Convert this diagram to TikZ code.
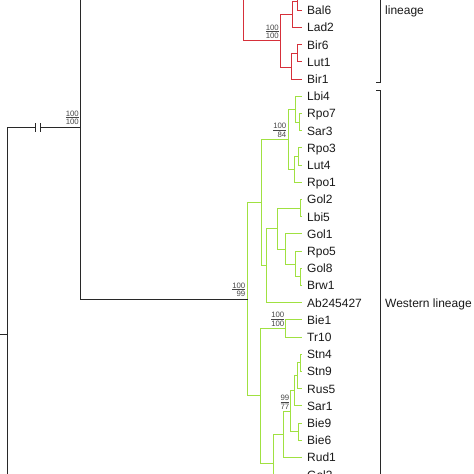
\documentclass[tikz,border=0pt]{standalone}
\usepackage{fontspec}
\setmainfont{Liberation Sans}
\definecolor{treeblack}{RGB}{40,40,40}
\definecolor{treered}{RGB}{214,48,58}
\definecolor{treegreen}{RGB}{160,225,65}
\definecolor{bootgray}{RGB}{70,70,70}
\begin{document}
\begin{tikzpicture}[x=1pt,y=-1pt,
  br/.style={line width=1.6pt},
  blk/.style={br,draw=treeblack},
  redb/.style={br,draw=treered},
  grn/.style={br,draw=treegreen},
  leaf/.style={anchor=base west,inner sep=0pt,font=\fontsize{12}{14}\selectfont,text=black!90},
  boot/.style={anchor=south east,inner sep=0pt,align=right,font=\fontsize{7.8}{8.6}\selectfont,text=bootgray}]
\useasboundingbox (0,0) rectangle (474,474);
\clip (0,0) rectangle (474,474);
% leaves
\foreach \n/\i in {Xtop/-1,Bal6/0,Lad2/1,Bir6/2,Lut1/3,Bir1/4,Lbi4/5,Rpo7/6,Sar3/7,Rpo3/8,Lut4/9,Rpo1/10,Gol2/11,Lbi5/12,Gol1/13,Rpo5/14,Gol8/15,Brw1/16,Ab245427/17,Bie1/18,Tr10/19,Stn4/20,Stn9/21,Rus5/22,Sar1/23,Bie9/24,Bie6/25,Rud1/26,Gol3/27,Xbot/28}
  {\coordinate (\n) at (302,{floor(10.3+17.2*\i)+0.5});}
\foreach \n/\i in {Bal6/0,Lad2/1,Bir6/2,Lut1/3,Bir1/4,Lbi4/5,Rpo7/6,Sar3/7,Rpo3/8,Lut4/9,Rpo1/10,Gol2/11,Lbi5/12,Gol1/13,Rpo5/14,Gol8/15,Brw1/16,Ab245427/17,Bie1/18,Tr10/19,Stn4/20,Stn9/21,Rus5/22,Sar1/23,Bie9/24,Bie6/25,Rud1/26,Gol3/27}
  {\node[leaf] (t\n) at (307,{14.6+17.2*\i}) {\n};}
% red clade
\coordinate (cBal) at (297.5,1.5);
\coordinate (nR1) at (292.5,14.5);
\coordinate (cBir) at (297.5,53.5);
\coordinate (nR2) at (291.5,67.5);
\coordinate (nR3) at (280.5,40.5);
\coordinate (nRtop) at (243.5,-20);
\draw[redb] (cBal) |- (Xtop); \draw[redb] (cBal) |- (Bal6);
\draw[redb] (nR1) |- (cBal); \draw[redb] (nR1) |- (Lad2);
\draw[redb] (cBir) |- (Bir6); \draw[redb] (cBir) |- (Lut1);
\draw[redb] (nR2) |- (cBir); \draw[redb] (nR2) |- (Bir1);
\draw[redb] (nR3) |- (nR1); \draw[redb] (nR3) |- (nR2);
\draw[redb] (nRtop) |- (nR3);
% green clade
\coordinate (cRS) at (299.5,122.5);
\coordinate (nG5) at (295.5,109.5);
\coordinate (cRL) at (298.5,156.5);
\coordinate (nG6) at (294.5,169.5);
\coordinate (nG4) at (288.5,139.5);
\coordinate (cGL) at (300.5,208.5);
\coordinate (cGB) at (300.5,276.5);
\coordinate (nG9) at (295.5,264.5);
\coordinate (nG8) at (285.5,249.5);
\coordinate (nG7) at (277.5,228.5);
\coordinate (nG3) at (266.5,265.5);
\coordinate (nG2) at (261.5,202.5);
\coordinate (cBT) at (285.5,328.5);
\coordinate (cSS) at (300.5,362.5);
\coordinate (nS1) at (297.5,375.5);
\coordinate (nS2) at (294.5,390.5);
\coordinate (cBB) at (298.5,431.5);
\coordinate (nS3) at (290.5,411.5);
\coordinate (nS4) at (283.5,434.5);
\coordinate (nS6) at (292.5,492);
\coordinate (nS5) at (273.5,463.5);
\coordinate (nS0) at (260.5,395.5);
\coordinate (nG0) at (247.5,299.5);
\foreach \p/\c in {cRS/Rpo7,cRS/Sar3,nG5/Lbi4,nG5/cRS,cRL/Rpo3,cRL/Lut4,nG6/cRL,nG6/Rpo1,nG4/nG5,nG4/nG6,
  cGL/Gol2,cGL/Lbi5,cGB/Gol8,cGB/Brw1,nG9/Rpo5,nG9/cGB,nG8/Gol1,nG8/nG9,nG7/cGL,nG7/nG8,nG3/nG7,nG3/Ab245427,
  nG2/nG4,nG2/nG3,cBT/Bie1,cBT/Tr10,cSS/Stn4,cSS/Stn9,nS1/cSS,nS1/Rus5,nS2/nS1,nS2/Sar1,cBB/Bie9,cBB/Bie6,
  nS3/nS2,nS3/cBB,nS4/nS3,nS4/Rud1,nS6/Gol3,nS6/Xbot,nS5/nS4,nS5/nS6,nS0/cBT,nS0/nS5,nG0/nG2,nG0/nS0}
  {\draw[grn] (\p) |- (\c);}
% black backbone
\coordinate (nB) at (80.5,127.5);
\coordinate (nUp) at (150,-44);
\coordinate (nRoot) at (7.5,334.5);
\coordinate (brkL) at (35.5,127.5);
\coordinate (brkR) at (40.5,127.5);
\draw[blk] (nB) |- (nG0);
\draw[blk] (nB) |- (nUp);
\draw[blk] (nRoot) |- (brkL);
\draw[blk] (brkR) -- (nB);
\draw[blk] (35.5,123) -- (35.5,132);
\draw[blk] (40.5,123) -- (40.5,132);
\draw[blk] (nRoot) -- (7.5,560);
\draw[blk] (nRoot) -- (-5,334.5);
% bootstrap values
\node[boot] (b1) at (279,39) {\underline{100}\\100};
\node[boot] (b2) at (79,125) {\underline{100}\\100};
\node[boot] (b3) at (286.5,137.3) {\underline{100}\\84};
\node[boot] (b4) at (245.5,297) {\underline{100}\\99};
\node[boot] (b5) at (284.5,326.5) {\underline{100}\\100};
\node[boot] (b6) at (289.5,409.3) {\underline{99}\\77};
% brackets
\coordinate (brA) at (376,82.5);
\coordinate (brB) at (376,90.5);
\draw[blk] (brA) -| (380.5,-10);
\draw[blk] (brB) -| (380.5,490);
\node[leaf] (lin1) at (385,14.6) {lineage};
\node[leaf] (lin2) at (385,307.3) {Western lineage};
\end{tikzpicture}
\end{document}
